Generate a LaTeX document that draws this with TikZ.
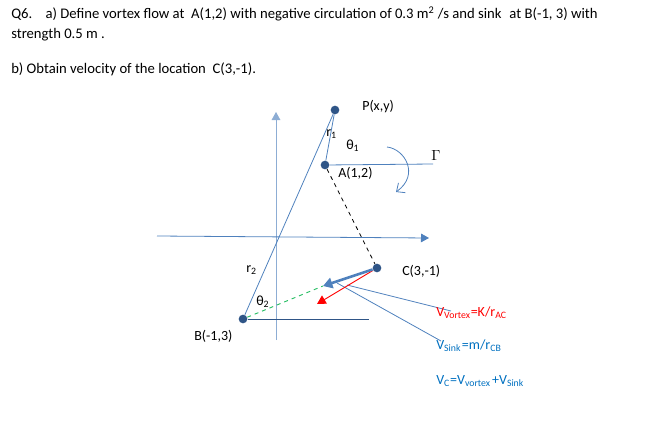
\documentclass[tikz,border=0pt]{standalone}
\usepackage{fontspec}
\setmainfont{Carlito}
\usetikzlibrary{arrows.meta}
\definecolor{linecol}{RGB}{79,129,189}
\definecolor{dotcol}{RGB}{47,85,135}
\definecolor{formcol}{RGB}{0,112,192}
\definecolor{rayred}{RGB}{255,0,0}
\definecolor{raygreen}{RGB}{40,190,100}
\newcommand{\sbs}[1]{\textsubscript{#1}}
\tikzset{
  pointdot/.style={circle,fill=dotcol,inner sep=0pt,minimum size=6.5pt},
  thinline/.style={draw=linecol,line width=0.6pt},
  txt/.style={anchor=base west,inner sep=0pt,font=\fontsize{11}{13}\selectfont},
  lbl/.style={anchor=base west,inner sep=0pt,font=\fontsize{10.5}{12}\selectfont},
}
\begin{document}
\begin{tikzpicture}[x=0.75pt,y=-0.75pt]
   \useasboundingbox (0,0) rectangle (650,421);
   % question text
   \node[txt] (line1) at (11,18.5) {Q6.\hspace{10pt}a) Define vortex flow at\hspace{5pt}A(1,2) with negative circulation of 0.3 m\textsuperscript{2} /s and sink\hspace{3.5pt} at B(-1, 3) with};
   \node[txt] (line2) at (11,38) {strength 0.5 m .};
   \node[txt] (line3) at (11,73) {b) Obtain velocity of the location\hspace{5pt}C(3,-1).};
   % points
   \node[pointdot] (P) at (335,110) {};
   \node[pointdot] (A) at (325,165) {};
   \node[pointdot] (B) at (243,319) {};
   \node[pointdot] (C) at (377,268) {};
   % free ends
   \coordinate (yfoot) at (276,340);
   \coordinate (ytop) at (276,112);
   \coordinate (xleft) at (157,236);
   \coordinate (xright) at (429,238);
   \coordinate (aend) at (433,164);
   \coordinate (bend) at (369,319);
   \coordinate (sinktip) at (323,286);
   \coordinate (redtip) at (317,304);
   \coordinate (vstart) at (347,285);
   \coordinate (vend) at (451,311);
   \coordinate (sstart) at (337,283);
   \coordinate (send) at (441,341);
   % axes
   \draw[thinline,draw=linecol!65!white,-{Triangle[length=6pt,width=6.5pt]}] (yfoot) -- (ytop);
   \draw[thinline,-{Triangle[length=6pt,width=6.5pt]}] (xleft) -- (xright);
   % lines
   \draw[thinline] (P) -- (B);
   \draw[thinline] (P) -- (A);
   \draw[thinline] (A) -- (aend);
   \draw[thinline,draw=dotcol] (B) -- (bend);
   \draw[thinline] (vstart) -- (vend);
   \draw[thinline] (sstart) -- (send);
   \draw[black,dashed,line width=0.6pt] (A) -- (C);
   \draw[raygreen,dashed,line width=0.7pt] (B) -- (sinktip);
   \draw[rayred,line width=0.7pt,-{Triangle[length=6.5pt,width=7pt]}] (C) -- (redtip);
   \draw[linecol,line width=2pt,-{Triangle[length=7pt,width=8pt]}] (C) -- (sinktip);
   % circulation
   \coordinate (gstart) at (387,147);
   \coordinate (gtip) at (396,192);
   \draw[thinline,-{Straight Barb[length=5pt,width=9pt]}] (gstart) .. controls (405,149) and (420,175) .. (gtip);
   % labels
   \node[lbl] (Plbl) at (362,110.5) {P(x,y)};
   \node[lbl] (Albl) at (338,177) {A(1,2)};
   \node[lbl] (Blbl) at (194,340) {B(-1,3)};
   \node[lbl] (Clbl) at (402,275) {C(3,-1)};
   \node[lbl] (r1lbl) at (326,136) {r\sbs{1}};
   \node[lbl] (r2lbl) at (246,272) {r\sbs{2}};
   \node[lbl] (t1lbl) at (346,149) {θ\sbs{1}};
   \node[lbl] (t2lbl) at (256,305) {θ\sbs{2}};
   \node[lbl] (gamlbl) at (431,160) {$\Gamma$};
   \node[lbl,text=rayred] (vvlbl) at (436,316) {V\sbs{Vortex}=K/r\sbs{AC}};
   \node[lbl,text=formcol] (vslbl) at (436,349) {V\sbs{Sink}\hspace{0.5pt}=m/r\sbs{CB}};
   \node[lbl,text=formcol] (vclbl) at (436,384) {V\sbs{C}=V\sbs{vortex}\hspace{1pt}+V\sbs{Sink}};
\end{tikzpicture}
\end{document}
